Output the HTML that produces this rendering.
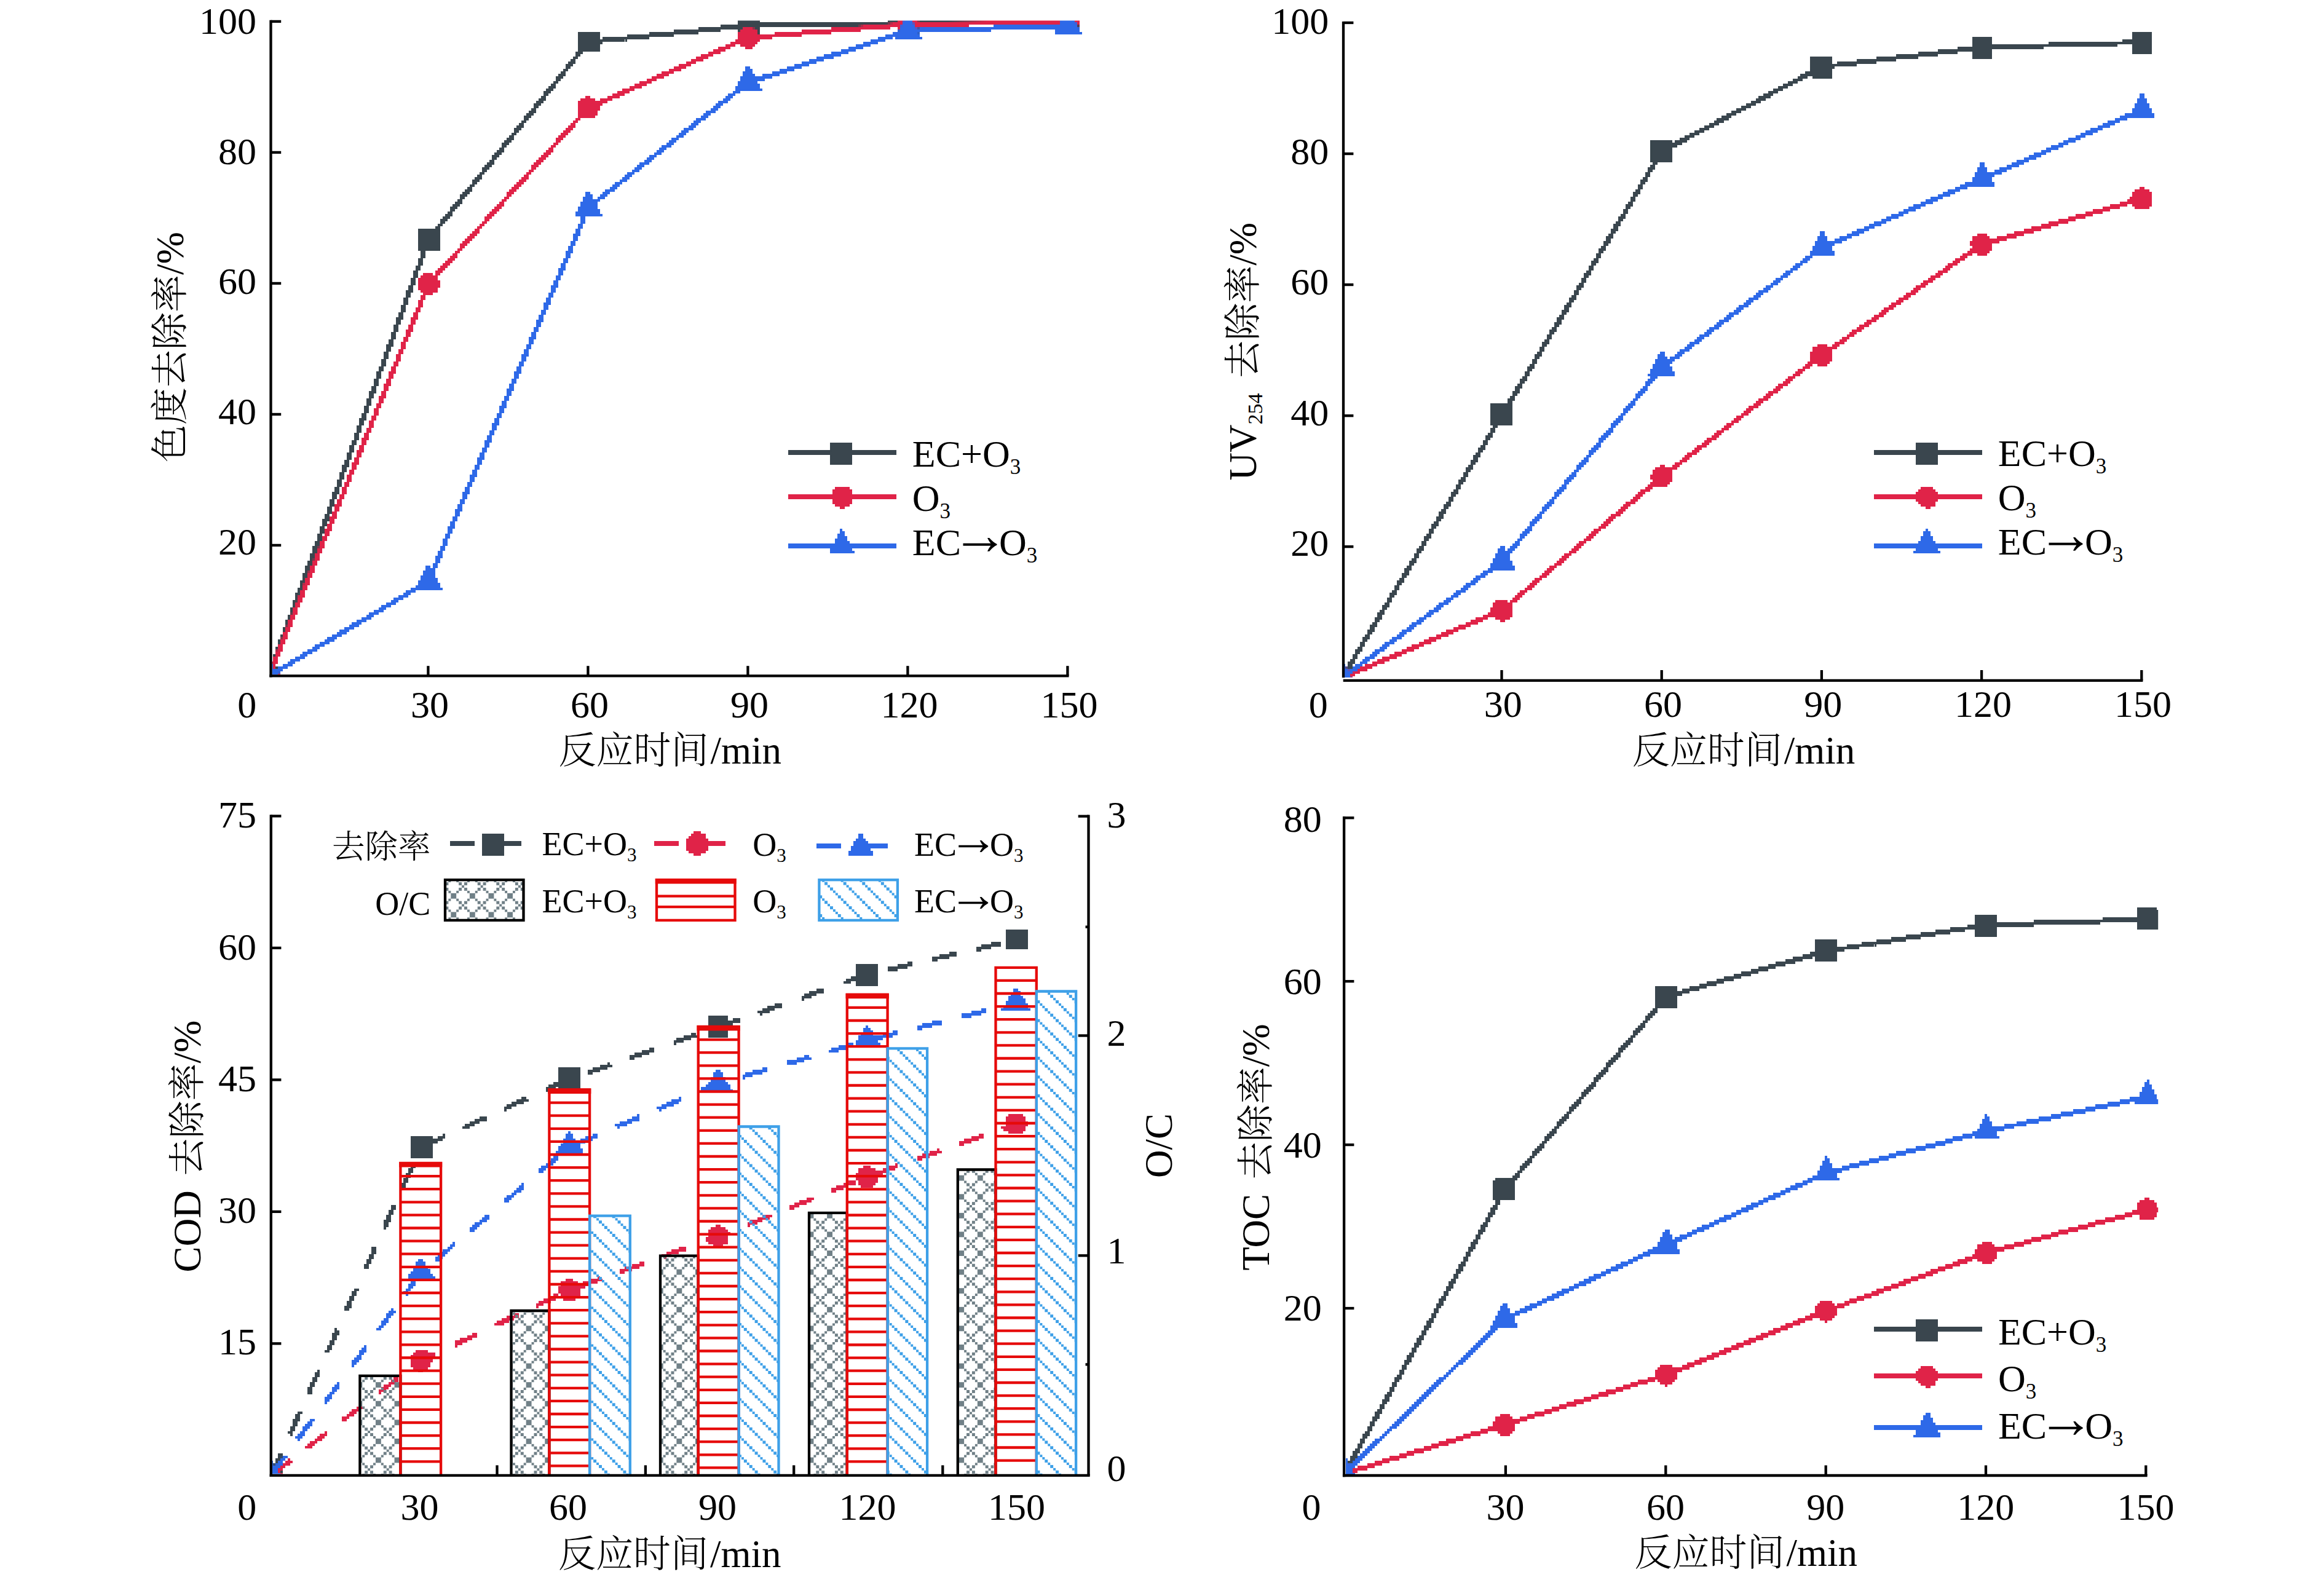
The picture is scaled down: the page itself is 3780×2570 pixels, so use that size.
<!DOCTYPE html>
<html lang="zh"><head><meta charset="utf-8"><title>fig</title>
<style>html,body{margin:0;padding:0;background:#fff}svg{display:block}text{font-family:"Liberation Serif", "Noto Serif CJK SC", serif;fill:#000}.cj{font-weight:300}</style></head><body>
<svg width="3780" height="2570" viewBox="0 0 3780 2570">
<rect width="3780" height="2570" fill="#fff"/>
<defs>
<pattern id="hg" patternUnits="userSpaceOnUse" width="30.59" height="30.59" patternTransform="translate(8.03,24.00)"><g fill="#708087" shape-rendering="crispEdges"><rect x="0.0" y="0.0" width="4.37" height="4.37"/><rect x="17.48" y="0.0" width="4.37" height="4.37"/><rect x="4.37" y="4.37" width="4.37" height="4.37"/><rect x="13.11" y="4.37" width="4.37" height="4.37"/><rect x="8.74" y="8.74" width="4.37" height="4.37"/><rect x="4.37" y="13.11" width="4.37" height="4.37"/><rect x="13.11" y="13.11" width="4.37" height="4.37"/><rect x="0.0" y="17.48" width="4.37" height="4.37"/><rect x="17.48" y="17.48" width="4.37" height="4.37"/><rect x="21.85" y="21.85" width="8.74" height="8.74"/></g></pattern>
<pattern id="hb" patternUnits="userSpaceOnUse" width="30.59" height="30.59" patternTransform="translate(12.91,14.69)"><g fill="#3EA0E8" shape-rendering="crispEdges"><rect x="0.0" y="0.0" width="4.37" height="4.37"/><rect x="4.37" y="4.37" width="4.37" height="4.37"/><rect x="8.74" y="8.74" width="4.37" height="4.37"/><rect x="13.11" y="13.11" width="4.37" height="4.37"/><rect x="17.48" y="17.48" width="4.37" height="4.37"/><rect x="21.85" y="21.85" width="4.37" height="4.37"/><rect x="26.22" y="26.22" width="4.37" height="4.37"/></g></pattern>
<clipPath id="c1"><rect x="442.6" y="33.5" width="1330" height="1063.7"/></clipPath>
<clipPath id="c2"><rect x="2187" y="30" width="1318" height="1072"/></clipPath>
<clipPath id="c3"><rect x="443" y="1330" width="1326" height="1067.6"/></clipPath>
<clipPath id="c4"><rect x="2189" y="1320" width="1321.2" height="1078"/></clipPath>
<filter id="px1" filterUnits="userSpaceOnUse" x="436" y="28" width="1340" height="1076" color-interpolation-filters="sRGB"><feFlood x="437" y="29" width="1" height="1"/><feComposite width="4" height="4" x="436" y="28"/><feTile result="a"/><feComposite in="SourceGraphic" in2="a" operator="in"/><feComponentTransfer><feFuncA type="discrete" tableValues="0 1"/></feComponentTransfer><feMorphology operator="dilate" radius="1" result="b"/><feOffset dx="1" dy="0" result="c"/><feMerge result="d"><feMergeNode in="b"/><feMergeNode in="c"/></feMerge><feOffset dx="0" dy="1" result="e"/><feMerge><feMergeNode in="d"/><feMergeNode in="e"/></feMerge></filter>
<filter id="px2" filterUnits="userSpaceOnUse" x="2180" y="28" width="1340" height="1080" color-interpolation-filters="sRGB"><feFlood x="2181" y="29" width="1" height="1"/><feComposite width="4" height="4" x="2180" y="28"/><feTile result="a"/><feComposite in="SourceGraphic" in2="a" operator="in"/><feComponentTransfer><feFuncA type="discrete" tableValues="0 1"/></feComponentTransfer><feMorphology operator="dilate" radius="1" result="b"/><feOffset dx="1" dy="0" result="c"/><feMerge result="d"><feMergeNode in="b"/><feMergeNode in="c"/></feMerge><feOffset dx="0" dy="1" result="e"/><feMerge><feMergeNode in="d"/><feMergeNode in="e"/></feMerge></filter>
<filter id="px3" filterUnits="userSpaceOnUse" x="436" y="1324" width="1340" height="1080" color-interpolation-filters="sRGB"><feFlood x="437" y="1325" width="1" height="1"/><feComposite width="4" height="4" x="436" y="1324"/><feTile result="a"/><feComposite in="SourceGraphic" in2="a" operator="in"/><feComponentTransfer><feFuncA type="discrete" tableValues="0 1"/></feComponentTransfer><feMorphology operator="dilate" radius="1" result="b"/><feOffset dx="1" dy="0" result="c"/><feMerge result="d"><feMergeNode in="b"/><feMergeNode in="c"/></feMerge><feOffset dx="0" dy="1" result="e"/><feMerge><feMergeNode in="d"/><feMergeNode in="e"/></feMerge></filter>
<filter id="px4" filterUnits="userSpaceOnUse" x="2180" y="1316" width="1340" height="1088" color-interpolation-filters="sRGB"><feFlood x="2181" y="1317" width="1" height="1"/><feComposite width="4" height="4" x="2180" y="1316"/><feTile result="a"/><feComposite in="SourceGraphic" in2="a" operator="in"/><feComponentTransfer><feFuncA type="discrete" tableValues="0 1"/></feComponentTransfer><feMorphology operator="dilate" radius="1" result="b"/><feOffset dx="1" dy="0" result="c"/><feMerge result="d"><feMergeNode in="b"/><feMergeNode in="c"/></feMerge><feOffset dx="0" dy="1" result="e"/><feMerge><feMergeNode in="d"/><feMergeNode in="e"/></feMerge></filter>
<filter id="px5" filterUnits="userSpaceOnUse" x="700" y="1340" width="780" height="70" color-interpolation-filters="sRGB"><feFlood x="701" y="1341" width="1" height="1"/><feComposite width="4" height="4" x="700" y="1340"/><feTile result="a"/><feComposite in="SourceGraphic" in2="a" operator="in"/><feComponentTransfer><feFuncA type="discrete" tableValues="0 1"/></feComponentTransfer><feMorphology operator="dilate" radius="1" result="b"/><feOffset dx="1" dy="0" result="c"/><feMerge result="d"><feMergeNode in="b"/><feMergeNode in="c"/></feMerge><feOffset dx="0" dy="1" result="e"/><feMerge><feMergeNode in="d"/><feMergeNode in="e"/></feMerge></filter>
<filter id="px6" filterUnits="userSpaceOnUse" x="1270" y="700" width="200" height="230" color-interpolation-filters="sRGB"><feFlood x="1271" y="701" width="1" height="1"/><feComposite width="4" height="4" x="1270" y="700"/><feTile result="a"/><feComposite in="SourceGraphic" in2="a" operator="in"/><feComponentTransfer><feFuncA type="discrete" tableValues="0 1"/></feComponentTransfer><feMorphology operator="dilate" radius="1" result="b"/><feOffset dx="1" dy="0" result="c"/><feMerge result="d"><feMergeNode in="b"/><feMergeNode in="c"/></feMerge><feOffset dx="0" dy="1" result="e"/><feMerge><feMergeNode in="d"/><feMergeNode in="e"/></feMerge></filter>
<filter id="px7" filterUnits="userSpaceOnUse" x="3036" y="700" width="200" height="230" color-interpolation-filters="sRGB"><feFlood x="3037" y="701" width="1" height="1"/><feComposite width="4" height="4" x="3036" y="700"/><feTile result="a"/><feComposite in="SourceGraphic" in2="a" operator="in"/><feComponentTransfer><feFuncA type="discrete" tableValues="0 1"/></feComponentTransfer><feMorphology operator="dilate" radius="1" result="b"/><feOffset dx="1" dy="0" result="c"/><feMerge result="d"><feMergeNode in="b"/><feMergeNode in="c"/></feMerge><feOffset dx="0" dy="1" result="e"/><feMerge><feMergeNode in="d"/><feMergeNode in="e"/></feMerge></filter>
<filter id="px8" filterUnits="userSpaceOnUse" x="3036" y="2130" width="200" height="230" color-interpolation-filters="sRGB"><feFlood x="3037" y="2131" width="1" height="1"/><feComposite width="4" height="4" x="3036" y="2130"/><feTile result="a"/><feComposite in="SourceGraphic" in2="a" operator="in"/><feComponentTransfer><feFuncA type="discrete" tableValues="0 1"/></feComponentTransfer><feMorphology operator="dilate" radius="1" result="b"/><feOffset dx="1" dy="0" result="c"/><feMerge result="d"><feMergeNode in="b"/><feMergeNode in="c"/></feMerge><feOffset dx="0" dy="1" result="e"/><feMerge><feMergeNode in="d"/><feMergeNode in="e"/></feMerge></filter>
</defs>
<g clip-path="url(#c1)"><g filter="url(#px1)">
<polyline points="436.4,1099.5 696.4,389.4 956.4,67.9 1216.4,41 1476.4,37 1736.4,35" fill="none" stroke="#3A464E" stroke-width="7.8" stroke-linejoin="round"/>
<rect x="418.9" y="1082" width="35" height="35" fill="#3A464E"/>
<rect x="678.9" y="371.9" width="35" height="35" fill="#3A464E"/>
<rect x="938.9" y="50.4" width="35" height="35" fill="#3A464E"/>
<rect x="1198.9" y="23.5" width="35" height="35" fill="#3A464E"/>
<rect x="1458.9" y="19.5" width="35" height="35" fill="#3A464E"/>
<rect x="1718.9" y="17.5" width="35" height="35" fill="#3A464E"/>
<polyline points="436.4,1099.5 696.4,461.5 956.4,174.8 1216.4,60.9 1476.4,39 1736.4,35" fill="none" stroke="#E02348" stroke-width="7.8" stroke-linejoin="round"/>
<circle cx="436.4" cy="1099.5" r="18" fill="#E02348"/>
<circle cx="696.4" cy="461.5" r="18" fill="#E02348"/>
<circle cx="956.4" cy="174.8" r="18" fill="#E02348"/>
<circle cx="1216.4" cy="60.9" r="18" fill="#E02348"/>
<circle cx="1476.4" cy="39" r="18" fill="#E02348"/>
<circle cx="1736.4" cy="35" r="18" fill="#E02348"/>
<polyline points="436.4,1099.5 696.4,944.9 956.4,336.8 1216.4,133.6 1476.4,50 1736.4,41.4" fill="none" stroke="#2E69E8" stroke-width="7.8" stroke-linejoin="round"/>
<polygon points="434.1,1073.2 438.7,1073.2 458.4,1112.7 414.4,1112.7" fill="#2E69E8"/>
<polygon points="694.1,918.5 698.7,918.5 718.4,958 674.4,958" fill="#2E69E8"/>
<polygon points="954.1,310.4 958.7,310.4 978.4,349.9 934.4,349.9" fill="#2E69E8"/>
<polygon points="1214.1,107.2 1218.7,107.2 1238.4,146.8 1194.4,146.8" fill="#2E69E8"/>
<polygon points="1474.1,23.6 1478.7,23.6 1498.4,63.1 1454.4,63.1" fill="#2E69E8"/>
<polygon points="1734.1,15 1738.7,15 1758.4,54.5 1714.4,54.5" fill="#2E69E8"/>
</g></g>
<line x1="440.5" y1="32.8" x2="440.5" y2="1101.5" stroke="#000" stroke-width="4.3" />
<line x1="438.4" y1="1099.3" x2="1738.5" y2="1099.3" stroke="#000" stroke-width="4.3" />
<line x1="440.5" y1="34.9" x2="457.2" y2="34.9" stroke="#000" stroke-width="4.3" />
<text x="417" y="54.9" font-size="62" text-anchor="end" >100</text>
<line x1="440.5" y1="247.9" x2="457.2" y2="247.9" stroke="#000" stroke-width="4.3" />
<text x="417" y="266.5" font-size="62" text-anchor="end" >80</text>
<line x1="440.5" y1="460.9" x2="457.2" y2="460.9" stroke="#000" stroke-width="4.3" />
<text x="417" y="478.1" font-size="62" text-anchor="end" >60</text>
<line x1="440.5" y1="673.9" x2="457.2" y2="673.9" stroke="#000" stroke-width="4.3" />
<text x="417" y="690.3" font-size="62" text-anchor="end" >40</text>
<line x1="440.5" y1="886.9" x2="457.2" y2="886.9" stroke="#000" stroke-width="4.3" />
<text x="417" y="902.4" font-size="62" text-anchor="end" >20</text>
<line x1="696.4" y1="1099.3" x2="696.4" y2="1083.2" stroke="#000" stroke-width="4.3" />
<text x="698.9" y="1167" font-size="62" text-anchor="middle" >30</text>
<line x1="956.4" y1="1099.3" x2="956.4" y2="1083.2" stroke="#000" stroke-width="4.3" />
<text x="958.9" y="1167" font-size="62" text-anchor="middle" >60</text>
<line x1="1216.4" y1="1099.3" x2="1216.4" y2="1083.2" stroke="#000" stroke-width="4.3" />
<text x="1218.9" y="1167" font-size="62" text-anchor="middle" >90</text>
<line x1="1476.4" y1="1099.3" x2="1476.4" y2="1083.2" stroke="#000" stroke-width="4.3" />
<text x="1478.9" y="1167" font-size="62" text-anchor="middle" >120</text>
<line x1="1736.4" y1="1099.3" x2="1736.4" y2="1083.2" stroke="#000" stroke-width="4.3" />
<text x="1738.9" y="1167" font-size="62" text-anchor="middle" >150</text>
<text x="401.7" y="1167" font-size="62" text-anchor="middle" >0</text>
<text x="1089.7" y="1242.3" font-size="63" text-anchor="middle" ><tspan font-size="61" class="cj" dx="0">反应时间</tspan><tspan dx="3">/min</tspan></text>
<text transform="translate(298,564.4) rotate(-90)" font-size="63" text-anchor="middle" ><tspan font-size="61" class="cj" dx="0">色度去除率</tspan>/%</text>
<g filter="url(#px6)">
<line x1="1281.3" y1="737.4" x2="1456.8" y2="737.4" stroke="#3A464E" stroke-width="7.9" />
<rect x="1351.5" y="719.9" width="35" height="35" fill="#3A464E"/>
<line x1="1281.3" y1="807.8" x2="1456.8" y2="807.8" stroke="#E02348" stroke-width="7.9" />
<circle cx="1369" cy="807.8" r="18" fill="#E02348"/>
<line x1="1281.3" y1="887.4" x2="1456.8" y2="887.4" stroke="#2E69E8" stroke-width="7.9" />
<polygon points="1366.8,861.2 1371.3,861.2 1391,900.8 1347,900.8" fill="#2E69E8"/>
</g>
<text x="1483.8" y="758.6" font-size="62" text-anchor="start" >EC+O<tspan dy="12" font-size="35">3</tspan></text>
<text x="1483.8" y="830.9" font-size="62" text-anchor="start" >O<tspan dy="12" font-size="35">3</tspan></text>
<text x="1483.8" y="902.8" font-size="62" text-anchor="start" >EC<tspan font-size="93" dx="-15.5" dy="-2">→</tspan><tspan dx="-15.5" dy="2">O</tspan><tspan dy="12" font-size="35">3</tspan></text>
<g clip-path="url(#c2)"><g filter="url(#px2)">
<polyline points="2182.3,1102.2 2442.5,674.9 2702.7,245.6 2962.9,108.2 3223.1,76.9 3483.3,68.3" fill="none" stroke="#3A464E" stroke-width="7.8" stroke-linejoin="round"/>
<rect x="2164.8" y="1084.7" width="35" height="35" fill="#3A464E"/>
<rect x="2425" y="657.4" width="35" height="35" fill="#3A464E"/>
<rect x="2685.2" y="228.1" width="35" height="35" fill="#3A464E"/>
<rect x="2945.4" y="90.7" width="35" height="35" fill="#3A464E"/>
<rect x="3205.6" y="59.4" width="35" height="35" fill="#3A464E"/>
<rect x="3465.8" y="50.8" width="35" height="35" fill="#3A464E"/>
<polyline points="2182.3,1102.2 2442.5,992 2702.7,774.8 2962.9,577.1 3223.1,397 3483.3,322.9" fill="none" stroke="#E02348" stroke-width="7.8" stroke-linejoin="round"/>
<circle cx="2182.3" cy="1102.2" r="18" fill="#E02348"/>
<circle cx="2442.5" cy="992" r="18" fill="#E02348"/>
<circle cx="2702.7" cy="774.8" r="18" fill="#E02348"/>
<circle cx="2962.9" cy="577.1" r="18" fill="#E02348"/>
<circle cx="3223.1" cy="397" r="18" fill="#E02348"/>
<circle cx="3483.3" cy="322.9" r="18" fill="#E02348"/>
<polyline points="2182.3,1102.2 2442.5,912.4 2702.7,596.9 2962.9,402.6 3223.1,290.6 3483.3,178.3" fill="none" stroke="#2E69E8" stroke-width="7.8" stroke-linejoin="round"/>
<polygon points="2180,1075.9 2184.6,1075.9 2204.3,1115.4 2160.3,1115.4" fill="#2E69E8"/>
<polygon points="2440.2,886 2444.8,886 2464.5,925.5 2420.5,925.5" fill="#2E69E8"/>
<polygon points="2700.4,570.5 2705,570.5 2724.7,610 2680.7,610" fill="#2E69E8"/>
<polygon points="2960.6,376.2 2965.2,376.2 2984.9,415.8 2940.9,415.8" fill="#2E69E8"/>
<polygon points="3220.8,264.2 3225.4,264.2 3245.1,303.8 3201.1,303.8" fill="#2E69E8"/>
<polygon points="3481,151.9 3485.6,151.9 3505.3,191.4 3461.3,191.4" fill="#2E69E8"/>
</g></g>
<line x1="2185" y1="34.9" x2="2185" y2="1102.2" stroke="#000" stroke-width="4.3" />
<line x1="2184.7" y1="1106.8" x2="3485.4" y2="1106.8" stroke="#000" stroke-width="4.3" />
<line x1="2185" y1="37" x2="2201.4" y2="37" stroke="#000" stroke-width="4.3" />
<text x="2161.3" y="55.1" font-size="62" text-anchor="end" >100</text>
<line x1="2185" y1="250.1" x2="2201.4" y2="250.1" stroke="#000" stroke-width="4.3" />
<text x="2161.3" y="267.2" font-size="62" text-anchor="end" >80</text>
<line x1="2185" y1="463.1" x2="2201.4" y2="463.1" stroke="#000" stroke-width="4.3" />
<text x="2161.3" y="479.2" font-size="62" text-anchor="end" >60</text>
<line x1="2185" y1="676.2" x2="2201.4" y2="676.2" stroke="#000" stroke-width="4.3" />
<text x="2161.3" y="692" font-size="62" text-anchor="end" >40</text>
<line x1="2185" y1="889.2" x2="2201.4" y2="889.2" stroke="#000" stroke-width="4.3" />
<text x="2161.3" y="904" font-size="62" text-anchor="end" >20</text>
<line x1="2442.5" y1="1106.8" x2="2442.5" y2="1090" stroke="#000" stroke-width="4.3" />
<text x="2444.8" y="1166" font-size="62" text-anchor="middle" >30</text>
<line x1="2702.7" y1="1106.8" x2="2702.7" y2="1090" stroke="#000" stroke-width="4.3" />
<text x="2705" y="1166" font-size="62" text-anchor="middle" >60</text>
<line x1="2962.9" y1="1106.8" x2="2962.9" y2="1090" stroke="#000" stroke-width="4.3" />
<text x="2965.2" y="1166" font-size="62" text-anchor="middle" >90</text>
<line x1="3223.1" y1="1106.8" x2="3223.1" y2="1090" stroke="#000" stroke-width="4.3" />
<text x="3225.4" y="1166" font-size="62" text-anchor="middle" >120</text>
<line x1="3483.3" y1="1106.8" x2="3483.3" y2="1090" stroke="#000" stroke-width="4.3" />
<text x="3485.6" y="1166" font-size="62" text-anchor="middle" >150</text>
<text x="2144.3" y="1166.5" font-size="62" text-anchor="middle" >0</text>
<text x="2835.9" y="1241.9" font-size="63" text-anchor="middle" ><tspan font-size="61" class="cj" dx="0">反应时间</tspan><tspan dx="3">/min</tspan></text>
<text transform="translate(2043.3,571.7) rotate(-90)" font-size="63" text-anchor="middle" >UV<tspan dy="10" font-size="34">254</tspan><tspan dy="-10"> </tspan><tspan font-size="61" class="cj" dx="9">去除率</tspan>/%</text>
<g filter="url(#px7)">
<line x1="3046.2" y1="737" x2="3221.7" y2="737" stroke="#3A464E" stroke-width="7.9" />
<rect x="3116.4" y="719.5" width="35" height="35" fill="#3A464E"/>
<line x1="3046.2" y1="808.1" x2="3221.7" y2="808.1" stroke="#E02348" stroke-width="7.9" />
<circle cx="3133.9" cy="808.1" r="18" fill="#E02348"/>
<line x1="3046.2" y1="886.7" x2="3221.7" y2="886.7" stroke="#2E69E8" stroke-width="7.9" />
<polygon points="3131.6,860.6 3136.2,860.6 3155.9,900.1 3111.9,900.1" fill="#2E69E8"/>
</g>
<text x="3249.8" y="758.4" font-size="62" text-anchor="start" >EC+O<tspan dy="12" font-size="35">3</tspan></text>
<text x="3249.8" y="830.4" font-size="62" text-anchor="start" >O<tspan dy="12" font-size="35">3</tspan></text>
<text x="3249.8" y="902.3" font-size="62" text-anchor="start" >EC<tspan font-size="93" dx="-15.5" dy="-2">→</tspan><tspan dx="-15.5" dy="2">O</tspan><tspan dy="12" font-size="35">3</tspan></text>
<g clip-path="url(#c3)"><g filter="url(#px3)">
<polyline points="440,2400 684,1866.2 926,1754.1 1167.5,1670.5 1410,1584.7 1652.3,1527.9" fill="none" stroke="#3A464E" stroke-width="7.6" stroke-linejoin="round" stroke-dasharray="40.5 33.2"/>
<rect x="422.5" y="2382.5" width="35" height="35" fill="#3A464E"/>
<rect x="666.5" y="1848.7" width="35" height="35" fill="#3A464E"/>
<rect x="908.5" y="1736.6" width="35" height="35" fill="#3A464E"/>
<rect x="1150" y="1653" width="35" height="35" fill="#3A464E"/>
<rect x="1392.5" y="1567.2" width="35" height="35" fill="#3A464E"/>
<rect x="1634.8" y="1510.4" width="35" height="35" fill="#3A464E"/>
<polyline points="440,2400 684,2212.4 926,2098 1167.5,2010.6 1410,1914 1652.3,1827.6" fill="none" stroke="#E02348" stroke-width="7.6" stroke-linejoin="round" stroke-dasharray="40.5 33.2"/>
<circle cx="440" cy="2400" r="18" fill="#E02348"/>
<circle cx="684" cy="2212.4" r="18" fill="#E02348"/>
<circle cx="926" cy="2098" r="18" fill="#E02348"/>
<circle cx="1167.5" cy="2010.6" r="18" fill="#E02348"/>
<circle cx="1410" cy="1914" r="18" fill="#E02348"/>
<circle cx="1652.3" cy="1827.6" r="18" fill="#E02348"/>
<polyline points="440,2400 684,2069.9 926,1864.8 1167.5,1762 1410,1692.1 1652.3,1630.8" fill="none" stroke="#2E69E8" stroke-width="7.6" stroke-linejoin="round" stroke-dasharray="40.5 33.2"/>
<polygon points="437.7,2376.7 442.3,2376.7 464,2411.7 416,2411.7" fill="#2E69E8"/>
<polygon points="681.7,2046.6 686.3,2046.6 708,2081.6 660,2081.6" fill="#2E69E8"/>
<polygon points="923.7,1841.5 928.3,1841.5 950,1876.5 902,1876.5" fill="#2E69E8"/>
<polygon points="1165.2,1738.7 1169.8,1738.7 1191.5,1773.7 1143.5,1773.7" fill="#2E69E8"/>
<polygon points="1407.7,1668.8 1412.3,1668.8 1434,1703.8 1386,1703.8" fill="#2E69E8"/>
<polygon points="1650,1607.5 1654.6,1607.5 1676.3,1642.5 1628.3,1642.5" fill="#2E69E8"/>
</g></g>
<rect x="585.4" y="2237.8" width="66.1" height="162.1" fill="url(#hg)"/>
<path d="M585.4,2399.9 V2237.8 H651.4 V2399.9" fill="none" stroke="#000" stroke-width="4.3" stroke-linejoin="miter"/>
<path d="M651.4,2399.9 V1892 H717.1 V2399.9" fill="none" stroke="#E60A0A" stroke-width="4.3" stroke-linejoin="miter"/>
<line x1="649.3" y1="1894.2" x2="719.2" y2="1894.2" stroke="#E60A0A" stroke-width="8.6" />
<line x1="651.4" y1="1913.1" x2="717.1" y2="1913.1" stroke="#E60A0A" stroke-width="4.3" />
<line x1="651.4" y1="1934.2" x2="717.1" y2="1934.2" stroke="#E60A0A" stroke-width="4.3" />
<line x1="651.4" y1="1955.3" x2="717.1" y2="1955.3" stroke="#E60A0A" stroke-width="4.3" />
<line x1="651.4" y1="1976.4" x2="717.1" y2="1976.4" stroke="#E60A0A" stroke-width="4.3" />
<line x1="651.4" y1="1997.5" x2="717.1" y2="1997.5" stroke="#E60A0A" stroke-width="4.3" />
<line x1="651.4" y1="2018.6" x2="717.1" y2="2018.6" stroke="#E60A0A" stroke-width="4.3" />
<line x1="651.4" y1="2039.7" x2="717.1" y2="2039.7" stroke="#E60A0A" stroke-width="4.3" />
<line x1="651.4" y1="2060.8" x2="717.1" y2="2060.8" stroke="#E60A0A" stroke-width="4.3" />
<line x1="651.4" y1="2081.9" x2="717.1" y2="2081.9" stroke="#E60A0A" stroke-width="4.3" />
<line x1="651.4" y1="2103" x2="717.1" y2="2103" stroke="#E60A0A" stroke-width="4.3" />
<line x1="651.4" y1="2124.1" x2="717.1" y2="2124.1" stroke="#E60A0A" stroke-width="4.3" />
<line x1="651.4" y1="2145.2" x2="717.1" y2="2145.2" stroke="#E60A0A" stroke-width="4.3" />
<line x1="651.4" y1="2166.3" x2="717.1" y2="2166.3" stroke="#E60A0A" stroke-width="4.3" />
<line x1="651.4" y1="2187.4" x2="717.1" y2="2187.4" stroke="#E60A0A" stroke-width="4.3" />
<line x1="651.4" y1="2208.5" x2="717.1" y2="2208.5" stroke="#E60A0A" stroke-width="4.3" />
<line x1="651.4" y1="2229.6" x2="717.1" y2="2229.6" stroke="#E60A0A" stroke-width="4.3" />
<line x1="651.4" y1="2250.7" x2="717.1" y2="2250.7" stroke="#E60A0A" stroke-width="4.3" />
<line x1="651.4" y1="2271.8" x2="717.1" y2="2271.8" stroke="#E60A0A" stroke-width="4.3" />
<line x1="651.4" y1="2292.9" x2="717.1" y2="2292.9" stroke="#E60A0A" stroke-width="4.3" />
<line x1="651.4" y1="2314" x2="717.1" y2="2314" stroke="#E60A0A" stroke-width="4.3" />
<line x1="651.4" y1="2335.1" x2="717.1" y2="2335.1" stroke="#E60A0A" stroke-width="4.3" />
<line x1="651.4" y1="2356.2" x2="717.1" y2="2356.2" stroke="#E60A0A" stroke-width="4.3" />
<line x1="651.4" y1="2377.3" x2="717.1" y2="2377.3" stroke="#E60A0A" stroke-width="4.3" />
<rect x="831.5" y="2132" width="61.9" height="267.9" fill="url(#hg)"/>
<path d="M831.5,2399.9 V2132 H893.4 V2399.9" fill="none" stroke="#000" stroke-width="4.3" stroke-linejoin="miter"/>
<path d="M893.4,2399.9 V1772.5 H959.1 V2399.9" fill="none" stroke="#E60A0A" stroke-width="4.3" stroke-linejoin="miter"/>
<line x1="891.3" y1="1774.7" x2="961.3" y2="1774.7" stroke="#E60A0A" stroke-width="8.6" />
<line x1="893.4" y1="1793.6" x2="959.1" y2="1793.6" stroke="#E60A0A" stroke-width="4.3" />
<line x1="893.4" y1="1814.7" x2="959.1" y2="1814.7" stroke="#E60A0A" stroke-width="4.3" />
<line x1="893.4" y1="1835.8" x2="959.1" y2="1835.8" stroke="#E60A0A" stroke-width="4.3" />
<line x1="893.4" y1="1856.9" x2="959.1" y2="1856.9" stroke="#E60A0A" stroke-width="4.3" />
<line x1="893.4" y1="1878" x2="959.1" y2="1878" stroke="#E60A0A" stroke-width="4.3" />
<line x1="893.4" y1="1899.1" x2="959.1" y2="1899.1" stroke="#E60A0A" stroke-width="4.3" />
<line x1="893.4" y1="1920.2" x2="959.1" y2="1920.2" stroke="#E60A0A" stroke-width="4.3" />
<line x1="893.4" y1="1941.3" x2="959.1" y2="1941.3" stroke="#E60A0A" stroke-width="4.3" />
<line x1="893.4" y1="1962.4" x2="959.1" y2="1962.4" stroke="#E60A0A" stroke-width="4.3" />
<line x1="893.4" y1="1983.5" x2="959.1" y2="1983.5" stroke="#E60A0A" stroke-width="4.3" />
<line x1="893.4" y1="2004.6" x2="959.1" y2="2004.6" stroke="#E60A0A" stroke-width="4.3" />
<line x1="893.4" y1="2025.7" x2="959.1" y2="2025.7" stroke="#E60A0A" stroke-width="4.3" />
<line x1="893.4" y1="2046.8" x2="959.1" y2="2046.8" stroke="#E60A0A" stroke-width="4.3" />
<line x1="893.4" y1="2067.9" x2="959.1" y2="2067.9" stroke="#E60A0A" stroke-width="4.3" />
<line x1="893.4" y1="2089" x2="959.1" y2="2089" stroke="#E60A0A" stroke-width="4.3" />
<line x1="893.4" y1="2110.1" x2="959.1" y2="2110.1" stroke="#E60A0A" stroke-width="4.3" />
<line x1="893.4" y1="2131.2" x2="959.1" y2="2131.2" stroke="#E60A0A" stroke-width="4.3" />
<line x1="893.4" y1="2152.3" x2="959.1" y2="2152.3" stroke="#E60A0A" stroke-width="4.3" />
<line x1="893.4" y1="2173.4" x2="959.1" y2="2173.4" stroke="#E60A0A" stroke-width="4.3" />
<line x1="893.4" y1="2194.5" x2="959.1" y2="2194.5" stroke="#E60A0A" stroke-width="4.3" />
<line x1="893.4" y1="2215.6" x2="959.1" y2="2215.6" stroke="#E60A0A" stroke-width="4.3" />
<line x1="893.4" y1="2236.7" x2="959.1" y2="2236.7" stroke="#E60A0A" stroke-width="4.3" />
<line x1="893.4" y1="2257.8" x2="959.1" y2="2257.8" stroke="#E60A0A" stroke-width="4.3" />
<line x1="893.4" y1="2278.9" x2="959.1" y2="2278.9" stroke="#E60A0A" stroke-width="4.3" />
<line x1="893.4" y1="2300" x2="959.1" y2="2300" stroke="#E60A0A" stroke-width="4.3" />
<line x1="893.4" y1="2321.1" x2="959.1" y2="2321.1" stroke="#E60A0A" stroke-width="4.3" />
<line x1="893.4" y1="2342.2" x2="959.1" y2="2342.2" stroke="#E60A0A" stroke-width="4.3" />
<line x1="893.4" y1="2363.3" x2="959.1" y2="2363.3" stroke="#E60A0A" stroke-width="4.3" />
<line x1="893.4" y1="2384.4" x2="959.1" y2="2384.4" stroke="#E60A0A" stroke-width="4.3" />
<rect x="959.1" y="1977.7" width="65.6" height="422.2" fill="url(#hb)"/>
<path d="M959.1,2399.9 V1977.7 H1024.8 V2399.9" fill="none" stroke="#3EA0E8" stroke-width="4.3" stroke-linejoin="miter"/>
<rect x="1074" y="2042.7" width="61.7" height="357.2" fill="url(#hg)"/>
<path d="M1074,2399.9 V2042.7 H1135.6 V2399.9" fill="none" stroke="#000" stroke-width="4.3" stroke-linejoin="miter"/>
<path d="M1135.7,2399.9 V1670 H1201.6 V2399.9" fill="none" stroke="#E60A0A" stroke-width="4.3" stroke-linejoin="miter"/>
<line x1="1133.5" y1="1672.2" x2="1203.8" y2="1672.2" stroke="#E60A0A" stroke-width="8.6" />
<line x1="1135.7" y1="1691.1" x2="1201.6" y2="1691.1" stroke="#E60A0A" stroke-width="4.3" />
<line x1="1135.7" y1="1712.2" x2="1201.6" y2="1712.2" stroke="#E60A0A" stroke-width="4.3" />
<line x1="1135.7" y1="1733.3" x2="1201.6" y2="1733.3" stroke="#E60A0A" stroke-width="4.3" />
<line x1="1135.7" y1="1754.4" x2="1201.6" y2="1754.4" stroke="#E60A0A" stroke-width="4.3" />
<line x1="1135.7" y1="1775.5" x2="1201.6" y2="1775.5" stroke="#E60A0A" stroke-width="4.3" />
<line x1="1135.7" y1="1796.6" x2="1201.6" y2="1796.6" stroke="#E60A0A" stroke-width="4.3" />
<line x1="1135.7" y1="1817.7" x2="1201.6" y2="1817.7" stroke="#E60A0A" stroke-width="4.3" />
<line x1="1135.7" y1="1838.8" x2="1201.6" y2="1838.8" stroke="#E60A0A" stroke-width="4.3" />
<line x1="1135.7" y1="1859.9" x2="1201.6" y2="1859.9" stroke="#E60A0A" stroke-width="4.3" />
<line x1="1135.7" y1="1881" x2="1201.6" y2="1881" stroke="#E60A0A" stroke-width="4.3" />
<line x1="1135.7" y1="1902.1" x2="1201.6" y2="1902.1" stroke="#E60A0A" stroke-width="4.3" />
<line x1="1135.7" y1="1923.2" x2="1201.6" y2="1923.2" stroke="#E60A0A" stroke-width="4.3" />
<line x1="1135.7" y1="1944.3" x2="1201.6" y2="1944.3" stroke="#E60A0A" stroke-width="4.3" />
<line x1="1135.7" y1="1965.4" x2="1201.6" y2="1965.4" stroke="#E60A0A" stroke-width="4.3" />
<line x1="1135.7" y1="1986.5" x2="1201.6" y2="1986.5" stroke="#E60A0A" stroke-width="4.3" />
<line x1="1135.7" y1="2007.6" x2="1201.6" y2="2007.6" stroke="#E60A0A" stroke-width="4.3" />
<line x1="1135.7" y1="2028.7" x2="1201.6" y2="2028.7" stroke="#E60A0A" stroke-width="4.3" />
<line x1="1135.7" y1="2049.8" x2="1201.6" y2="2049.8" stroke="#E60A0A" stroke-width="4.3" />
<line x1="1135.7" y1="2070.9" x2="1201.6" y2="2070.9" stroke="#E60A0A" stroke-width="4.3" />
<line x1="1135.7" y1="2092" x2="1201.6" y2="2092" stroke="#E60A0A" stroke-width="4.3" />
<line x1="1135.7" y1="2113.1" x2="1201.6" y2="2113.1" stroke="#E60A0A" stroke-width="4.3" />
<line x1="1135.7" y1="2134.2" x2="1201.6" y2="2134.2" stroke="#E60A0A" stroke-width="4.3" />
<line x1="1135.7" y1="2155.3" x2="1201.6" y2="2155.3" stroke="#E60A0A" stroke-width="4.3" />
<line x1="1135.7" y1="2176.4" x2="1201.6" y2="2176.4" stroke="#E60A0A" stroke-width="4.3" />
<line x1="1135.7" y1="2197.5" x2="1201.6" y2="2197.5" stroke="#E60A0A" stroke-width="4.3" />
<line x1="1135.7" y1="2218.6" x2="1201.6" y2="2218.6" stroke="#E60A0A" stroke-width="4.3" />
<line x1="1135.7" y1="2239.7" x2="1201.6" y2="2239.7" stroke="#E60A0A" stroke-width="4.3" />
<line x1="1135.7" y1="2260.8" x2="1201.6" y2="2260.8" stroke="#E60A0A" stroke-width="4.3" />
<line x1="1135.7" y1="2281.9" x2="1201.6" y2="2281.9" stroke="#E60A0A" stroke-width="4.3" />
<line x1="1135.7" y1="2303" x2="1201.6" y2="2303" stroke="#E60A0A" stroke-width="4.3" />
<line x1="1135.7" y1="2324.1" x2="1201.6" y2="2324.1" stroke="#E60A0A" stroke-width="4.3" />
<line x1="1135.7" y1="2345.2" x2="1201.6" y2="2345.2" stroke="#E60A0A" stroke-width="4.3" />
<line x1="1135.7" y1="2366.3" x2="1201.6" y2="2366.3" stroke="#E60A0A" stroke-width="4.3" />
<line x1="1135.7" y1="2387.4" x2="1201.6" y2="2387.4" stroke="#E60A0A" stroke-width="4.3" />
<rect x="1201.7" y="1832.5" width="64.9" height="567.4" fill="url(#hb)"/>
<path d="M1201.7,2399.9 V1832.5 H1266.5 V2399.9" fill="none" stroke="#3EA0E8" stroke-width="4.3" stroke-linejoin="miter"/>
<rect x="1316" y="1972.8" width="61.8" height="427.1" fill="url(#hg)"/>
<path d="M1316,2399.9 V1972.8 H1377.7 V2399.9" fill="none" stroke="#000" stroke-width="4.3" stroke-linejoin="miter"/>
<path d="M1377.8,2399.9 V1617.8 H1443.6 V2399.9" fill="none" stroke="#E60A0A" stroke-width="4.3" stroke-linejoin="miter"/>
<line x1="1375.6" y1="1620" x2="1445.8" y2="1620" stroke="#E60A0A" stroke-width="8.6" />
<line x1="1377.8" y1="1638.9" x2="1443.6" y2="1638.9" stroke="#E60A0A" stroke-width="4.3" />
<line x1="1377.8" y1="1660" x2="1443.6" y2="1660" stroke="#E60A0A" stroke-width="4.3" />
<line x1="1377.8" y1="1681.1" x2="1443.6" y2="1681.1" stroke="#E60A0A" stroke-width="4.3" />
<line x1="1377.8" y1="1702.2" x2="1443.6" y2="1702.2" stroke="#E60A0A" stroke-width="4.3" />
<line x1="1377.8" y1="1723.3" x2="1443.6" y2="1723.3" stroke="#E60A0A" stroke-width="4.3" />
<line x1="1377.8" y1="1744.4" x2="1443.6" y2="1744.4" stroke="#E60A0A" stroke-width="4.3" />
<line x1="1377.8" y1="1765.5" x2="1443.6" y2="1765.5" stroke="#E60A0A" stroke-width="4.3" />
<line x1="1377.8" y1="1786.6" x2="1443.6" y2="1786.6" stroke="#E60A0A" stroke-width="4.3" />
<line x1="1377.8" y1="1807.7" x2="1443.6" y2="1807.7" stroke="#E60A0A" stroke-width="4.3" />
<line x1="1377.8" y1="1828.8" x2="1443.6" y2="1828.8" stroke="#E60A0A" stroke-width="4.3" />
<line x1="1377.8" y1="1849.9" x2="1443.6" y2="1849.9" stroke="#E60A0A" stroke-width="4.3" />
<line x1="1377.8" y1="1871" x2="1443.6" y2="1871" stroke="#E60A0A" stroke-width="4.3" />
<line x1="1377.8" y1="1892.1" x2="1443.6" y2="1892.1" stroke="#E60A0A" stroke-width="4.3" />
<line x1="1377.8" y1="1913.2" x2="1443.6" y2="1913.2" stroke="#E60A0A" stroke-width="4.3" />
<line x1="1377.8" y1="1934.3" x2="1443.6" y2="1934.3" stroke="#E60A0A" stroke-width="4.3" />
<line x1="1377.8" y1="1955.4" x2="1443.6" y2="1955.4" stroke="#E60A0A" stroke-width="4.3" />
<line x1="1377.8" y1="1976.5" x2="1443.6" y2="1976.5" stroke="#E60A0A" stroke-width="4.3" />
<line x1="1377.8" y1="1997.6" x2="1443.6" y2="1997.6" stroke="#E60A0A" stroke-width="4.3" />
<line x1="1377.8" y1="2018.7" x2="1443.6" y2="2018.7" stroke="#E60A0A" stroke-width="4.3" />
<line x1="1377.8" y1="2039.8" x2="1443.6" y2="2039.8" stroke="#E60A0A" stroke-width="4.3" />
<line x1="1377.8" y1="2060.9" x2="1443.6" y2="2060.9" stroke="#E60A0A" stroke-width="4.3" />
<line x1="1377.8" y1="2082" x2="1443.6" y2="2082" stroke="#E60A0A" stroke-width="4.3" />
<line x1="1377.8" y1="2103.1" x2="1443.6" y2="2103.1" stroke="#E60A0A" stroke-width="4.3" />
<line x1="1377.8" y1="2124.2" x2="1443.6" y2="2124.2" stroke="#E60A0A" stroke-width="4.3" />
<line x1="1377.8" y1="2145.3" x2="1443.6" y2="2145.3" stroke="#E60A0A" stroke-width="4.3" />
<line x1="1377.8" y1="2166.4" x2="1443.6" y2="2166.4" stroke="#E60A0A" stroke-width="4.3" />
<line x1="1377.8" y1="2187.5" x2="1443.6" y2="2187.5" stroke="#E60A0A" stroke-width="4.3" />
<line x1="1377.8" y1="2208.6" x2="1443.6" y2="2208.6" stroke="#E60A0A" stroke-width="4.3" />
<line x1="1377.8" y1="2229.7" x2="1443.6" y2="2229.7" stroke="#E60A0A" stroke-width="4.3" />
<line x1="1377.8" y1="2250.8" x2="1443.6" y2="2250.8" stroke="#E60A0A" stroke-width="4.3" />
<line x1="1377.8" y1="2271.9" x2="1443.6" y2="2271.9" stroke="#E60A0A" stroke-width="4.3" />
<line x1="1377.8" y1="2293" x2="1443.6" y2="2293" stroke="#E60A0A" stroke-width="4.3" />
<line x1="1377.8" y1="2314.1" x2="1443.6" y2="2314.1" stroke="#E60A0A" stroke-width="4.3" />
<line x1="1377.8" y1="2335.2" x2="1443.6" y2="2335.2" stroke="#E60A0A" stroke-width="4.3" />
<line x1="1377.8" y1="2356.3" x2="1443.6" y2="2356.3" stroke="#E60A0A" stroke-width="4.3" />
<line x1="1377.8" y1="2377.4" x2="1443.6" y2="2377.4" stroke="#E60A0A" stroke-width="4.3" />
<rect x="1443.7" y="1705.4" width="64.5" height="694.5" fill="url(#hb)"/>
<path d="M1443.7,2399.9 V1705.4 H1508.1 V2399.9" fill="none" stroke="#3EA0E8" stroke-width="4.3" stroke-linejoin="miter"/>
<rect x="1557.8" y="1902.5" width="61.7" height="497.4" fill="url(#hg)"/>
<path d="M1557.8,2399.9 V1902.5 H1619.4 V2399.9" fill="none" stroke="#000" stroke-width="4.3" stroke-linejoin="miter"/>
<path d="M1619.5,2399.9 V1573.8 H1685.8 V2399.9" fill="none" stroke="#E60A0A" stroke-width="4.3" stroke-linejoin="miter"/>
<line x1="1619.5" y1="1594.9" x2="1685.8" y2="1594.9" stroke="#E60A0A" stroke-width="4.3" />
<line x1="1619.5" y1="1616" x2="1685.8" y2="1616" stroke="#E60A0A" stroke-width="4.3" />
<line x1="1619.5" y1="1637.1" x2="1685.8" y2="1637.1" stroke="#E60A0A" stroke-width="4.3" />
<line x1="1619.5" y1="1658.2" x2="1685.8" y2="1658.2" stroke="#E60A0A" stroke-width="4.3" />
<line x1="1619.5" y1="1679.3" x2="1685.8" y2="1679.3" stroke="#E60A0A" stroke-width="4.3" />
<line x1="1619.5" y1="1700.4" x2="1685.8" y2="1700.4" stroke="#E60A0A" stroke-width="4.3" />
<line x1="1619.5" y1="1721.5" x2="1685.8" y2="1721.5" stroke="#E60A0A" stroke-width="4.3" />
<line x1="1619.5" y1="1742.6" x2="1685.8" y2="1742.6" stroke="#E60A0A" stroke-width="4.3" />
<line x1="1619.5" y1="1763.7" x2="1685.8" y2="1763.7" stroke="#E60A0A" stroke-width="4.3" />
<line x1="1619.5" y1="1784.8" x2="1685.8" y2="1784.8" stroke="#E60A0A" stroke-width="4.3" />
<line x1="1619.5" y1="1805.9" x2="1685.8" y2="1805.9" stroke="#E60A0A" stroke-width="4.3" />
<line x1="1619.5" y1="1827" x2="1685.8" y2="1827" stroke="#E60A0A" stroke-width="4.3" />
<line x1="1619.5" y1="1848.1" x2="1685.8" y2="1848.1" stroke="#E60A0A" stroke-width="4.3" />
<line x1="1619.5" y1="1869.2" x2="1685.8" y2="1869.2" stroke="#E60A0A" stroke-width="4.3" />
<line x1="1619.5" y1="1890.3" x2="1685.8" y2="1890.3" stroke="#E60A0A" stroke-width="4.3" />
<line x1="1619.5" y1="1911.4" x2="1685.8" y2="1911.4" stroke="#E60A0A" stroke-width="4.3" />
<line x1="1619.5" y1="1932.5" x2="1685.8" y2="1932.5" stroke="#E60A0A" stroke-width="4.3" />
<line x1="1619.5" y1="1953.6" x2="1685.8" y2="1953.6" stroke="#E60A0A" stroke-width="4.3" />
<line x1="1619.5" y1="1974.7" x2="1685.8" y2="1974.7" stroke="#E60A0A" stroke-width="4.3" />
<line x1="1619.5" y1="1995.8" x2="1685.8" y2="1995.8" stroke="#E60A0A" stroke-width="4.3" />
<line x1="1619.5" y1="2016.9" x2="1685.8" y2="2016.9" stroke="#E60A0A" stroke-width="4.3" />
<line x1="1619.5" y1="2038" x2="1685.8" y2="2038" stroke="#E60A0A" stroke-width="4.3" />
<line x1="1619.5" y1="2059.1" x2="1685.8" y2="2059.1" stroke="#E60A0A" stroke-width="4.3" />
<line x1="1619.5" y1="2080.2" x2="1685.8" y2="2080.2" stroke="#E60A0A" stroke-width="4.3" />
<line x1="1619.5" y1="2101.3" x2="1685.8" y2="2101.3" stroke="#E60A0A" stroke-width="4.3" />
<line x1="1619.5" y1="2122.4" x2="1685.8" y2="2122.4" stroke="#E60A0A" stroke-width="4.3" />
<line x1="1619.5" y1="2143.5" x2="1685.8" y2="2143.5" stroke="#E60A0A" stroke-width="4.3" />
<line x1="1619.5" y1="2164.6" x2="1685.8" y2="2164.6" stroke="#E60A0A" stroke-width="4.3" />
<line x1="1619.5" y1="2185.7" x2="1685.8" y2="2185.7" stroke="#E60A0A" stroke-width="4.3" />
<line x1="1619.5" y1="2206.8" x2="1685.8" y2="2206.8" stroke="#E60A0A" stroke-width="4.3" />
<line x1="1619.5" y1="2227.9" x2="1685.8" y2="2227.9" stroke="#E60A0A" stroke-width="4.3" />
<line x1="1619.5" y1="2249" x2="1685.8" y2="2249" stroke="#E60A0A" stroke-width="4.3" />
<line x1="1619.5" y1="2270.1" x2="1685.8" y2="2270.1" stroke="#E60A0A" stroke-width="4.3" />
<line x1="1619.5" y1="2291.2" x2="1685.8" y2="2291.2" stroke="#E60A0A" stroke-width="4.3" />
<line x1="1619.5" y1="2312.3" x2="1685.8" y2="2312.3" stroke="#E60A0A" stroke-width="4.3" />
<line x1="1619.5" y1="2333.4" x2="1685.8" y2="2333.4" stroke="#E60A0A" stroke-width="4.3" />
<line x1="1619.5" y1="2354.5" x2="1685.8" y2="2354.5" stroke="#E60A0A" stroke-width="4.3" />
<line x1="1619.5" y1="2375.6" x2="1685.8" y2="2375.6" stroke="#E60A0A" stroke-width="4.3" />
<rect x="1685.9" y="1612.5" width="64.3" height="787.4" fill="url(#hb)"/>
<path d="M1685.9,2399.9 V1612.5 H1750.1 V2399.9" fill="none" stroke="#3EA0E8" stroke-width="4.3" stroke-linejoin="miter"/>
<line x1="440.8" y1="1325.2" x2="440.8" y2="2402.1" stroke="#000" stroke-width="4.3" />
<line x1="438.7" y1="2399.9" x2="1772.7" y2="2399.9" stroke="#000" stroke-width="4.3" />
<line x1="1770.5" y1="1325.5" x2="1770.5" y2="2399.9" stroke="#000" stroke-width="4.3" />
<line x1="440.8" y1="1327.4" x2="457.4" y2="1327.4" stroke="#000" stroke-width="4.3" />
<text x="417" y="1346.4" font-size="62" text-anchor="end" >75</text>
<line x1="440.8" y1="1541.9" x2="457.4" y2="1541.9" stroke="#000" stroke-width="4.3" />
<text x="417" y="1560.5" font-size="62" text-anchor="end" >60</text>
<line x1="440.8" y1="1756.4" x2="457.4" y2="1756.4" stroke="#000" stroke-width="4.3" />
<text x="417" y="1774.6" font-size="62" text-anchor="end" >45</text>
<line x1="440.8" y1="1970.9" x2="457.4" y2="1970.9" stroke="#000" stroke-width="4.3" />
<text x="417" y="1988.5" font-size="62" text-anchor="end" >30</text>
<line x1="440.8" y1="2185.4" x2="457.4" y2="2185.4" stroke="#000" stroke-width="4.3" />
<text x="417" y="2202.6" font-size="62" text-anchor="end" >15</text>
<line x1="808.5" y1="2399.9" x2="808.5" y2="2383.4" stroke="#000" stroke-width="4.3" />
<line x1="1049.9" y1="2399.9" x2="1049.9" y2="2383.4" stroke="#000" stroke-width="4.3" />
<line x1="1291.2" y1="2399.9" x2="1291.2" y2="2383.4" stroke="#000" stroke-width="4.3" />
<line x1="1533.3" y1="2399.9" x2="1533.3" y2="2383.4" stroke="#000" stroke-width="4.3" />
<line x1="1770.5" y1="1327.7" x2="1753.7" y2="1327.7" stroke="#000" stroke-width="4.3" />
<line x1="1770.5" y1="1684.5" x2="1753.7" y2="1684.5" stroke="#000" stroke-width="4.3" />
<line x1="1770.5" y1="2042.3" x2="1753.7" y2="2042.3" stroke="#000" stroke-width="4.3" />
<line x1="1770.5" y1="1507.7" x2="1765.5" y2="1507.7" stroke="#000" stroke-width="4.3" />
<line x1="1770.5" y1="2219.4" x2="1765.5" y2="2219.4" stroke="#000" stroke-width="4.3" />
<text x="1800.5" y="1345.7" font-size="62" text-anchor="start" >3</text>
<text x="1800.5" y="1700.6" font-size="62" text-anchor="start" >2</text>
<text x="1800.5" y="2054.8" font-size="62" text-anchor="start" >1</text>
<text x="1800.5" y="2409.2" font-size="62" text-anchor="start" >0</text>
<text x="401.7" y="2472.4" font-size="62" text-anchor="middle" >0</text>
<text x="682.6" y="2472.4" font-size="62" text-anchor="middle" >30</text>
<text x="924" y="2472.4" font-size="62" text-anchor="middle" >60</text>
<text x="1167" y="2472.4" font-size="62" text-anchor="middle" >90</text>
<text x="1410.9" y="2472.4" font-size="62" text-anchor="middle" >120</text>
<text x="1653.4" y="2472.4" font-size="62" text-anchor="middle" >150</text>
<text x="1089.2" y="2548.6" font-size="63" text-anchor="middle" ><tspan font-size="61" class="cj" dx="0">反应时间</tspan><tspan dx="3">/min</tspan></text>
<text transform="translate(326,1864.5) rotate(-90)" font-size="63" text-anchor="middle" >COD <tspan font-size="61" class="cj" dx="8">去除率</tspan>/%</text>
<text transform="translate(1906,1863.5) rotate(-90)" font-size="63" text-anchor="middle" >O/C</text>
<text x="539.9" y="1396" font-size="53.5" text-anchor="start" ><tspan class="cj">去除率</tspan></text>
<text x="700.4" y="1487.8" font-size="54" text-anchor="end" >O/C</text>
<g filter="url(#px5)">
<line x1="732.2" y1="1372.3" x2="846.6" y2="1372.3" stroke="#3A464E" stroke-width="7.9" stroke-dasharray="40 30 60 10"/>
<rect x="785" y="1354.8" width="35" height="35" fill="#3A464E"/>
<line x1="1065.2" y1="1371" x2="1179.6" y2="1371" stroke="#E02348" stroke-width="7.9" stroke-dasharray="40 30 60 10"/>
<circle cx="1133.7" cy="1372" r="19" fill="#E02348"/>
<line x1="1329.3" y1="1377" x2="1443.7" y2="1377" stroke="#2E69E8" stroke-width="7.9" stroke-dasharray="40 30 60 10"/>
<polygon points="1397.2,1355 1401.8,1355 1421.5,1390 1377.5,1390" fill="#2E69E8"/>
</g>
<text x="881.5" y="1391" font-size="54" text-anchor="start" >EC+O<tspan dy="10" font-size="31">3</tspan></text>
<text x="1224.2" y="1392" font-size="54" text-anchor="start" >O<tspan dy="10" font-size="31">3</tspan></text>
<text x="1486.9" y="1391.7" font-size="54" text-anchor="start" >EC<tspan font-size="81" dx="-13.5" dy="-2">→</tspan><tspan dx="-13.5" dy="2">O</tspan><tspan dy="10" font-size="31">3</tspan></text>
<text x="881.5" y="1484" font-size="54" text-anchor="start" >EC+O<tspan dy="10" font-size="31">3</tspan></text>
<text x="1224.2" y="1484.2" font-size="54" text-anchor="start" >O<tspan dy="10" font-size="31">3</tspan></text>
<text x="1486.9" y="1484" font-size="54" text-anchor="start" >EC<tspan font-size="81" dx="-13.5" dy="-2">→</tspan><tspan dx="-13.5" dy="2">O</tspan><tspan dy="10" font-size="31">3</tspan></text>
<rect x="724" y="1431.2" width="127.5" height="65.7" fill="url(#hg)" stroke="#000" stroke-width="4.3"/>
<rect x="1068" y="1431.2" width="127.5" height="65.7" fill="none" stroke="#E60A0A" stroke-width="4.3"/>
<line x1="1065.8" y1="1433.2" x2="1197.6" y2="1433.2" stroke="#E60A0A" stroke-width="8.4" />
<line x1="1068" y1="1457.7" x2="1195.4" y2="1457.7" stroke="#E60A0A" stroke-width="4.3" />
<line x1="1068" y1="1475.1" x2="1195.4" y2="1475.1" stroke="#E60A0A" stroke-width="4.3" />
<rect x="1332.4" y="1431.2" width="127.5" height="65.7" fill="url(#hb)" stroke="#3EA0E8" stroke-width="4.3"/>
<g clip-path="url(#c4)"><g filter="url(#px4)">
<polyline points="2186,2396.4 2447,1934.7 2709.6,1620.6 2970,1546.6 3230.3,1504.2 3492.3,1494.9" fill="none" stroke="#3A464E" stroke-width="7.8" stroke-linejoin="round"/>
<rect x="2168.5" y="2378.9" width="35" height="35" fill="#3A464E"/>
<rect x="2429.5" y="1917.2" width="35" height="35" fill="#3A464E"/>
<rect x="2692.1" y="1603.1" width="35" height="35" fill="#3A464E"/>
<rect x="2952.5" y="1529.1" width="35" height="35" fill="#3A464E"/>
<rect x="3212.8" y="1486.7" width="35" height="35" fill="#3A464E"/>
<rect x="3474.8" y="1477.4" width="35" height="35" fill="#3A464E"/>
<polyline points="2186,2396.4 2447,2316.9 2709.6,2235.8 2970,2131.7 3230.3,2037.5 3492.3,1967.2" fill="none" stroke="#E02348" stroke-width="7.8" stroke-linejoin="round"/>
<circle cx="2186" cy="2396.4" r="18" fill="#E02348"/>
<circle cx="2447" cy="2316.9" r="18" fill="#E02348"/>
<circle cx="2709.6" cy="2235.8" r="18" fill="#E02348"/>
<circle cx="2970" cy="2131.7" r="18" fill="#E02348"/>
<circle cx="3230.3" cy="2037.5" r="18" fill="#E02348"/>
<circle cx="3492.3" cy="1967.2" r="18" fill="#E02348"/>
<polyline points="2186,2396.4 2447,2145.3 2709.6,2024.4 2970,1907.7 3230.3,1839.6 3492.3,1783.6" fill="none" stroke="#2E69E8" stroke-width="7.8" stroke-linejoin="round"/>
<polygon points="2183.7,2370.1 2188.3,2370.1 2208,2409.6 2164,2409.6" fill="#2E69E8"/>
<polygon points="2444.7,2118.9 2449.3,2118.9 2469,2158.4 2425,2158.4" fill="#2E69E8"/>
<polygon points="2707.3,1998 2711.9,1998 2731.6,2037.5 2687.6,2037.5" fill="#2E69E8"/>
<polygon points="2967.7,1881.3 2972.3,1881.3 2992,1920.8 2948,1920.8" fill="#2E69E8"/>
<polygon points="3228,1813.2 3232.6,1813.2 3252.3,1852.8 3208.3,1852.8" fill="#2E69E8"/>
<polygon points="3490,1757.2 3494.6,1757.2 3514.3,1796.8 3470.3,1796.8" fill="#2E69E8"/>
</g></g>
<line x1="2186.1" y1="1328.1" x2="2186.1" y2="2402.2" stroke="#000" stroke-width="4.3" />
<line x1="2183.9" y1="2400" x2="3492.6" y2="2400" stroke="#000" stroke-width="4.3" />
<line x1="2186.1" y1="1330.3" x2="2202.4" y2="1330.3" stroke="#000" stroke-width="4.3" />
<text x="2149.7" y="1352.6" font-size="62" text-anchor="end" >80</text>
<line x1="2186.1" y1="1596.2" x2="2202.4" y2="1596.2" stroke="#000" stroke-width="4.3" />
<text x="2149.7" y="1616.9" font-size="62" text-anchor="end" >60</text>
<line x1="2186.1" y1="1862.1" x2="2202.4" y2="1862.1" stroke="#000" stroke-width="4.3" />
<text x="2149.7" y="1882.7" font-size="62" text-anchor="end" >40</text>
<line x1="2186.1" y1="2128" x2="2202.4" y2="2128" stroke="#000" stroke-width="4.3" />
<text x="2149.7" y="2148.1" font-size="62" text-anchor="end" >20</text>
<line x1="2448.9" y1="2400" x2="2448.9" y2="2383.5" stroke="#000" stroke-width="4.3" />
<text x="2448.6" y="2472.4" font-size="62" text-anchor="middle" >30</text>
<line x1="2709.3" y1="2400" x2="2709.3" y2="2383.5" stroke="#000" stroke-width="4.3" />
<text x="2709" y="2472.4" font-size="62" text-anchor="middle" >60</text>
<line x1="2969.7" y1="2400" x2="2969.7" y2="2383.5" stroke="#000" stroke-width="4.3" />
<text x="2969.3" y="2472.4" font-size="62" text-anchor="middle" >90</text>
<line x1="3230" y1="2400" x2="3230" y2="2383.5" stroke="#000" stroke-width="4.3" />
<text x="3229.7" y="2472.4" font-size="62" text-anchor="middle" >120</text>
<line x1="3490.3" y1="2400" x2="3490.3" y2="2383.5" stroke="#000" stroke-width="4.3" />
<text x="3490" y="2472.4" font-size="62" text-anchor="middle" >150</text>
<text x="2133" y="2472.4" font-size="62" text-anchor="middle" >0</text>
<text x="2839.7" y="2547.3" font-size="63" text-anchor="middle" ><tspan font-size="61" class="cj" dx="0">反应时间</tspan><tspan dx="3">/min</tspan></text>
<text transform="translate(2064.3,1866) rotate(-90)" font-size="63" text-anchor="middle" >TOC <tspan font-size="61" class="cj" dx="8">去除率</tspan>/%</text>
<g filter="url(#px8)">
<line x1="3046.3" y1="2163.3" x2="3221.8" y2="2163.3" stroke="#3A464E" stroke-width="7.9" />
<rect x="3116.6" y="2145.8" width="35" height="35" fill="#3A464E"/>
<line x1="3046.3" y1="2238.2" x2="3221.8" y2="2238.2" stroke="#E02348" stroke-width="7.9" />
<circle cx="3134.1" cy="2238.2" r="18" fill="#E02348"/>
<line x1="3046.3" y1="2323" x2="3221.8" y2="2323" stroke="#2E69E8" stroke-width="7.9" />
<polygon points="3131.8,2296.8 3136.4,2296.8 3156.1,2336.3 3112.1,2336.3" fill="#2E69E8"/>
</g>
<text x="3249.9" y="2186.7" font-size="62" text-anchor="start" >EC+O<tspan dy="12" font-size="35">3</tspan></text>
<text x="3249.9" y="2263" font-size="62" text-anchor="start" >O<tspan dy="12" font-size="35">3</tspan></text>
<text x="3249.9" y="2340" font-size="62" text-anchor="start" >EC<tspan font-size="93" dx="-15.5" dy="-2">→</tspan><tspan dx="-15.5" dy="2">O</tspan><tspan dy="12" font-size="35">3</tspan></text>
</svg></body></html>
